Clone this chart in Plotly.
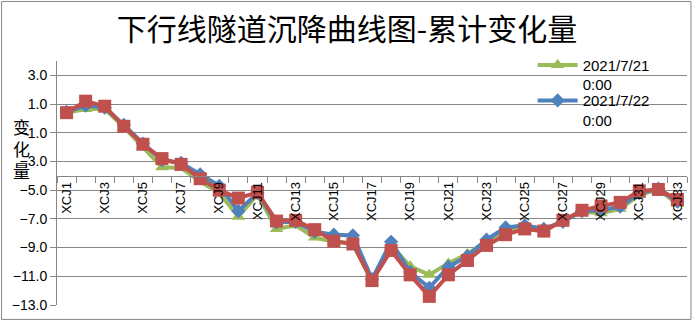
import plotly.graph_objects as go

categories = [f"XCJ{i}" for i in range(1, 34)]

s_0721 = [0.4, 0.65, 0.65, -0.6, -2.0, -3.4, -3.45, -4.4, -5.2, -6.85,
          -5.3, -7.7, -7.45, -8.3, -8.6, -8.7, -11.4, -8.85, -10.3, -10.9,
          -10.1, -9.45, -8.5, -7.8, -7.45, -7.75, -7.15, -6.5, -6.6, -6.3,
          -5.35, -4.95, -5.95]
s_0722 = [0.45, 0.9, 0.75, -0.45, -1.75, -2.9, -3.1, -3.9, -4.7, -6.45,
          -5.2, -7.25, -7.2, -7.9, -8.1, -8.15, -11.2, -8.6, -10.7, -11.8,
          -10.35, -9.6, -8.45, -7.6, -7.45, -7.7, -7.2, -6.45, -6.4, -6.15,
          -5.2, -4.9, -5.8]
s_0723 = [0.4, 1.2, 0.85, -0.55, -1.8, -2.8, -3.2, -4.2, -5.0, -5.55,
          -5.15, -7.15, -7.1, -7.75, -8.55, -8.75, -11.3, -9.2, -10.9, -12.4,
          -10.9, -9.9, -8.85, -8.1, -7.7, -7.85, -7.1, -6.4, -6.1, -5.85,
          -5.05, -4.95, -5.65]

series_names = ["2021/7/21<br>0:00", "2021/7/22<br>0:00", "2021/7/23<br>0:00"]

y_min, y_max, y_step, x_cross = -13.0, 4.0, 2.0, -4.0

x = list(range(1, len(categories) + 1))
label_vals = x[::2]
label_text = categories[::2]
boundary_vals = [v - 0.5 for v in x] + [x[-1] + 0.5]

GRID = "#868686"
fig = go.Figure()
fig.add_trace(go.Scatter(
    x=x, y=s_0721, name=series_names[0], mode="lines+markers",
    legend="legend",
    line=dict(color="#9BBB59", width=4),
    marker=dict(symbol="triangle-up", size=12, color="#9BBB59")))
fig.add_trace(go.Scatter(
    x=x, y=s_0722, name=series_names[1], mode="lines+markers",
    legend="legend2",
    line=dict(color="#4F81BD", width=4),
    marker=dict(symbol="diamond", size=11, color="#4F81BD")))
fig.add_trace(go.Scatter(
    x=x, y=s_0723, name=series_names[2], mode="lines+markers",
    showlegend=False,
    line=dict(color="#C0504D", width=4),
    marker=dict(symbol="square", size=13, color="#C0504D")))

legend_style = dict(x=0.755, xanchor="left", yanchor="top",
                    bgcolor="rgba(0,0,0,0)", font=dict(size=15), valign="top",
                    tracegroupgap=0, itemwidth=40)

fig.update_layout(
    width=694, height=322,
    margin=dict(l=57, r=7, t=61, b=17),
    paper_bgcolor="white", plot_bgcolor="white",
    font=dict(family="Liberation Sans, Arial, sans-serif", color="black"),
    title=dict(text="下行线隧道沉降曲线图-累计变化量",
               font=dict(family="Noto Sans CJK SC", size=30, color="black"),
               x=0.5, xanchor="center", y=1 - 29 / 322, yanchor="middle"),
    showlegend=True,
    legend=dict(y=1.05, **legend_style),
    legend2=dict(y=0.905, **legend_style),
    xaxis=dict(
        range=[0.5, len(categories) + 0.5],
        anchor="free", position=(x_cross - y_min) / (y_max - y_min),
        showgrid=False, zeroline=False,
        showline=True, linecolor=GRID, linewidth=1,
        tickmode="array", tickvals=label_vals, ticktext=label_text,
        ticks="outside", ticklen=0, tickangle=-90,
        tickfont=dict(size=13),
        minor=dict(tickmode="array", tickvals=boundary_vals,
                   ticks="outside", ticklen=6, tickcolor=GRID, showgrid=False),
    ),
    yaxis=dict(
        range=[y_min, y_max], tick0=y_min, dtick=y_step,
        tickformat=".1f", showgrid=True, gridcolor=GRID, gridwidth=1,
        zeroline=False, showline=True, linecolor=GRID, linewidth=1,
        ticks="outside", ticklen=6, tickcolor=GRID,
        tickfont=dict(size=14),
    ),
    annotations=[dict(
        text="变<br>化<br>量", xref="paper", yref="paper",
        x=-0.056, y=0.64, xanchor="center", yanchor="middle", showarrow=False,
        font=dict(family="Noto Sans CJK SC", size=17, color="black"))],
    shapes=[dict(type="rect", xref="paper", yref="paper",
                 x0=-0.088, x1=1.0063, y0=-0.059, y1=1.244,
                 line=dict(color=GRID, width=1), fillcolor="rgba(0,0,0,0)",
                 layer="below")],
)

fig.write_html("out.html")
